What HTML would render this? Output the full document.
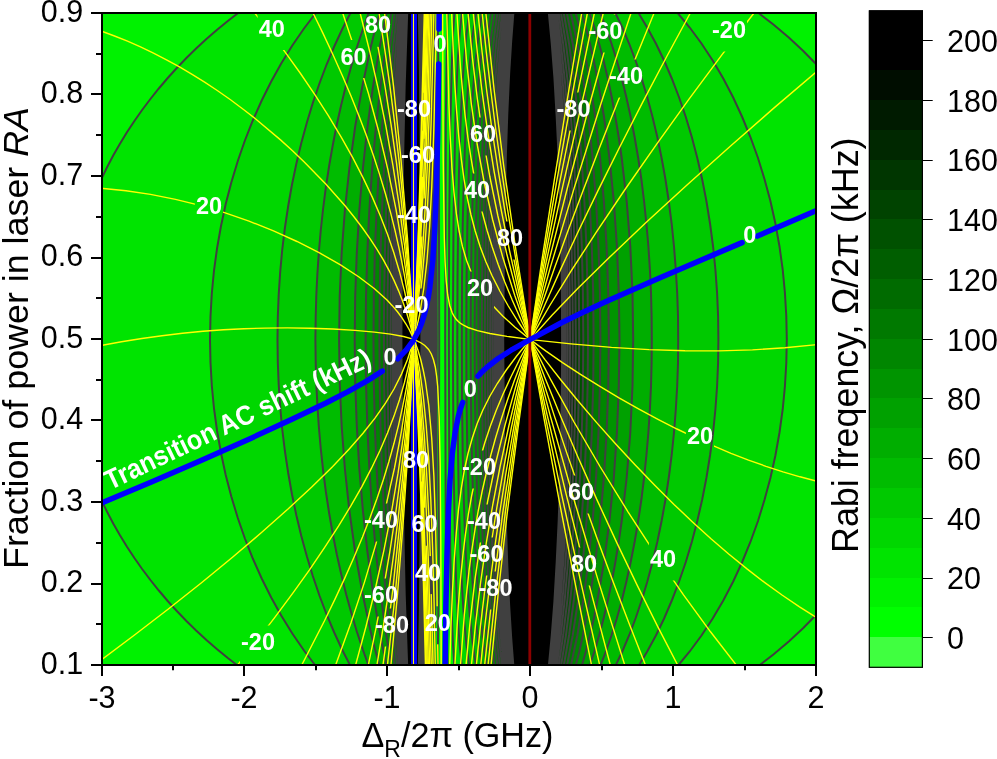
<!DOCTYPE html>
<html><head><meta charset="utf-8"><style>
html,body{margin:0;padding:0;background:#fff;width:997px;height:759px;overflow:hidden}
svg{display:block}
</style></head><body>
<svg width="997" height="759" viewBox="0 0 997 759">
<defs>
<clipPath id="pc"><rect x="101" y="12" width="716" height="654"/></clipPath>
<mask id="m120" maskUnits="userSpaceOnUse" x="0" y="0" width="997" height="759"><rect width="997" height="759" fill="#fff"/><g fill="#000"><rect x="396.0" y="92.2" width="36.0" height="38.0"/><rect x="555.5" y="92.0" width="36.0" height="38.0"/><rect x="477.5" y="571.0" width="36.0" height="38.0"/><rect x="374.0" y="608.0" width="36.0" height="38.0"/></g></mask><mask id="m140" maskUnits="userSpaceOnUse" x="0" y="0" width="997" height="759"><rect width="997" height="759" fill="#fff"/><g fill="#000"><rect x="400.0" y="138.3" width="36.0" height="38.0"/><rect x="587.4" y="14.0" width="36.0" height="38.0"/><rect x="468.5" y="537.0" width="36.0" height="38.0"/><rect x="363.0" y="578.0" width="36.0" height="38.0"/></g></mask><mask id="m160" maskUnits="userSpaceOnUse" x="0" y="0" width="997" height="759"><rect width="997" height="759" fill="#fff"/><g fill="#000"><rect x="396.0" y="198.0" width="36.0" height="38.0"/><rect x="608.0" y="59.0" width="36.0" height="38.0"/><rect x="363.0" y="503.0" width="36.0" height="38.0"/><rect x="466.0" y="504.0" width="36.0" height="38.0"/></g></mask><mask id="m180" maskUnits="userSpaceOnUse" x="0" y="0" width="997" height="759"><rect width="997" height="759" fill="#fff"/><g fill="#000"><rect x="393.5" y="288.0" width="36.0" height="38.0"/><rect x="711.0" y="13.0" width="36.0" height="38.0"/><rect x="461.0" y="450.0" width="36.0" height="38.0"/><rect x="240.0" y="625.0" width="36.0" height="38.0"/></g></mask><mask id="m220" maskUnits="userSpaceOnUse" x="0" y="0" width="997" height="759"><rect width="997" height="759" fill="#fff"/><g fill="#000"><rect x="194.9" y="188.5" width="28.1" height="38.0"/><rect x="465.9" y="271.0" width="28.1" height="38.0"/><rect x="423.7" y="605.8" width="28.1" height="38.0"/><rect x="685.9" y="419.0" width="28.1" height="38.0"/></g></mask><mask id="m240" maskUnits="userSpaceOnUse" x="0" y="0" width="997" height="759"><rect width="997" height="759" fill="#fff"/><g fill="#000"><rect x="257.6" y="11.5" width="28.1" height="38.0"/><rect x="462.9" y="173.0" width="28.1" height="38.0"/><rect x="413.9" y="555.6" width="28.1" height="38.0"/><rect x="648.9" y="542.0" width="28.1" height="38.0"/></g></mask><mask id="m260" maskUnits="userSpaceOnUse" x="0" y="0" width="997" height="759"><rect width="997" height="759" fill="#fff"/><g fill="#000"><rect x="339.5" y="39.5" width="28.1" height="38.0"/><rect x="468.9" y="117.0" width="28.1" height="38.0"/><rect x="410.5" y="507.2" width="28.1" height="38.0"/><rect x="566.9" y="475.0" width="28.1" height="38.0"/></g></mask><mask id="m280" maskUnits="userSpaceOnUse" x="0" y="0" width="997" height="759"><rect width="997" height="759" fill="#fff"/><g fill="#000"><rect x="363.9" y="8.3" width="28.1" height="38.0"/><rect x="495.9" y="221.0" width="28.1" height="38.0"/><rect x="401.9" y="443.0" width="28.1" height="38.0"/><rect x="569.9" y="547.0" width="28.1" height="38.0"/></g></mask><mask id="m200" maskUnits="userSpaceOnUse" x="0" y="0" width="997" height="759"><rect width="997" height="759" fill="#fff"/><g fill="#000"><rect x="432.5" y="27.0" width="15.1" height="38.0"/><rect x="742.3" y="218.0" width="15.1" height="38.0"/><rect x="382.5" y="340.0" width="15.1" height="38.0"/><rect x="462.7" y="372.0" width="15.1" height="38.0"/></g></mask>
</defs>
<g clip-path="url(#pc)">
<g transform="translate(0,0.5)">
<rect x="101" y="12" width="716" height="654" fill="rgb(0,255,0)"/>
<path fill="rgb(0,242,0)" d="M101 12L437.6 12 438.3 60 438.8 128.5 439.2 339 438.8 549.5 438.3 618 437.6 666 101 666 101 12ZM447.6 12L817 12 817 666 447.6 666 446.6 620 445.8 554 445.2 339 445.8 124 446.6 58 447.6 12Z"/>
<path fill="rgb(0,228,0)" d="M238.2 12.5L238.8 12 434.2 12 435.3 61.5 436.2 132 436.8 339 436.2 546 435.3 616.5 434.2 666 238.8 666 227.8 657.5 216.8 648.5 206.4 639.5 196.1 630 186.4 620.5 176.8 610.5 167.7 600.5 158.8 590 150.4 579.5 142.1 568.5 134.4 557.5 126.8 546 119.8 534.5 113.2 523 106.9 511 101 498.8 101 179.2 106.7 167.5 113 155.5 119.5 144 126.5 132.5 134 121 141.7 110 150 99 158.3 88.5 167.3 78 176.3 68 185.9 58 195.6 48.5 205.8 39 216.2 30 227.1 21 238.2 12.5ZM454.4 12L757.9 12 773.4 24 788.8 37 803.3 50.5 817 64.5 817 613.5 803.3 627.5 788.8 641 773.4 654 757.9 666 454.4 666 453.1 645.5 452 621 450.3 554.5 449.2 459.5 448.9 339 449.2 218.5 450.3 123.5 452 57 453.1 32.5 454.4 12Z"/>
<path fill="rgb(0,215,0)" d="M315.8 12.5L316.2 12 431.5 12 432.9 61.5 433.9 132 434.6 227.5 434.8 339 434.6 450.5 433.9 546 432.9 616.5 431.5 666 316.2 666 307.3 654.5 298.7 642.5 290.7 630.5 283 618 275.2 604.5 268.3 591.5 261.7 578 255.4 564 249.3 549.5 243.8 535 238.6 520 233.9 505 229.7 490 225.6 474 222.2 458.5 219.1 442.5 214.7 413.5 211.8 384.5 210.3 355.5 210.2 326 211.5 296.5 214.3 267.5 218.6 238.5 224.2 210 231.3 182 239.6 155 249.3 128.5 260.3 103 272.3 79 278.9 67 285.7 55.5 292.7 44.5 300.1 33.5 307.7 23 315.8 12.5ZM461.9 12L677.3 12 689.7 27 701.9 43.5 713.3 61 723.8 79 733.7 98 742.9 118 751.2 138.5 758.8 160 763.8 176 768.2 192 772.3 208.5 775.9 225.5 778.9 242.5 781.5 259.5 783.6 277 785.1 294 786.2 311.5 786.7 329 786.7 346.5 786.3 364 785.3 381.5 783.8 398.5 781.8 416 779.3 433 776.3 450 772.8 467 768.9 483.5 764.4 500 759.3 516.5 754 532 748.1 547.5 741.8 562.5 735.1 577 727.9 591.5 720.2 605.5 712.4 618.5 704.3 631 695.4 643.5 686.6 655 677.3 666 461.9 666 459.7 645 457.9 619.5 456.4 589.5 455.2 553 453.5 458.5 452.9 339 453.5 219.5 455.2 125 456.4 88.5 457.9 58.5 459.7 33 461.9 12Z"/>
<path fill="rgb(0,201,0)" d="M350.4 12.5L350.7 12 429.4 12 430.9 63.5 432.1 137.5 432.8 230 433 339 432.8 448 432.1 540.5 430.9 614.5 429.4 666 350.7 666 338.7 642 327.6 616.5 317.3 589 308.3 561 300.3 531.5 293.6 502 287.9 470.5 283.4 439 280.6 411 278.6 382 277.6 353.5 277.6 324.5 278.6 295.5 280.6 267 283.4 239 287.3 211 292.1 183.5 297.9 156.5 304.6 130 312.2 104.5 320.7 79.5 329.7 56.5 339.7 34 350.4 12.5ZM469.3 12L638.2 12 646.7 26 655.1 41.5 662.9 57.5 670.4 74.5 677.3 92 683.8 110.5 689.7 129.5 695.3 149.5 699.2 165.5 702.8 182 706.1 199 708.9 215.5 711.4 232.5 713.6 250.5 716.7 285.5 718.2 321 718.2 356.5 716.7 392 713.6 427.5 711.4 445.5 708.9 462.5 706.1 479 702.8 496 699.2 512.5 695.3 528.5 690.9 544.5 686.2 560 681.3 575 675.8 590 670.2 604 664.3 617.5 658.2 630.5 651.7 643 645.2 654.5 638.2 666 469.3 666 466.4 644 464 618 462 587 460.4 550.5 459 507 458.1 456.5 457.5 400 457.3 339 457.5 278 458.1 221.5 459 171 460.4 127.5 462 91 464 60 466.4 34 469.3 12Z"/>
<path fill="rgb(0,188,0)" d="M368.9 12L427.7 12 429.3 65.5 430.6 140.5 431.3 232.5 431.5 339 431.3 445.5 430.6 537.5 429.3 612.5 427.7 666 368.9 666 360.2 641.5 351.8 614.5 344.3 586.5 337.9 559 332.2 530.5 327.3 500.5 323.1 470 319.9 439 317.7 411 316.3 382.5 315.5 354 315.5 325.5 316.2 297 317.6 268.5 319.8 240.5 322.6 212.5 326.2 185 330.3 158.5 335.2 132 340.7 106.5 346.9 81.5 353.8 57 361.2 33.5 368.9 12ZM476.1 12L615.1 12 621.6 25.5 627.8 40 633.9 55.5 639.6 72 644.8 88.5 649.8 106 654.4 124 658.7 143 664.9 175.5 670 209.5 673.9 244.5 676.5 280 678 316 678.1 352 677.1 388 674.7 424 671.2 459 666.4 493.5 660.3 527 653.3 558.5 645.3 588 636.2 616 631.2 629.5 626.2 642 620.7 654.5 615.1 666 476.1 666 472.7 643 469.8 615.5 467.4 583.5 465.4 546.5 463.9 502.5 462.7 453 462 397.5 461.8 339 462 280.5 462.7 225 463.9 175.5 465.4 131.5 467.4 94.5 469.8 62.5 472.7 35 476.1 12Z"/>
<path fill="rgb(0,174,0)" d="M379.7 12L426.4 12 428.1 69.5 429.2 140 429.9 230.5 430.2 339 429.9 447.5 429.2 538 428.1 608.5 426.4 666 379.7 666 372.8 640 366.8 614 361.3 587 356.3 559 351.9 529.5 348.2 501 345.2 471.5 342.7 441.5 340.9 413 339.8 385 339.2 357 339.1 328.5 339.6 300 340.6 272 342.2 244 344.3 216.5 346.9 189 350.1 161.5 353.7 135.5 357.9 110 362.7 84 367.8 59.5 373.7 34.5 379.7 12ZM481.9 12L600 12 605.1 25 610.1 39 614.8 53.5 619.3 69 623.7 85.5 627.7 102.5 634.8 137.5 640.2 170.5 644.6 205 647.9 239.5 650.2 275.5 651.5 312 651.8 348.5 651 385 649.2 421 646.3 456.5 642.3 491.5 637.5 524.5 631.8 556.5 624.9 587.5 617.3 616 609.1 642 600 666 481.9 666 478.3 642 475.1 613.5 472.5 580.5 470.3 543 468.6 499.5 467.3 450 466.5 396 466.3 339 466.5 282 467.3 228 468.6 178.5 470.3 135 472.5 97.5 475.1 64.5 478.3 36 481.9 12Z"/>
<path fill="rgb(0,161,0)" d="M386.4 12.5L386.6 12 425.2 12 426.9 67 428.1 143.5 428.8 234.5 429.1 339 428.8 443.5 428.1 534.5 426.9 611 425.2 666 386.6 666 381.6 642 376.8 615.5 372.6 589.5 368.7 561.5 365.3 533 362.3 504.5 359.8 475 357.9 446 356.4 417.5 355.4 389.5 354.9 361 354.7 333 355 304.5 355.8 276.5 357 248.5 358.6 220 360.7 192 363.1 165 366.1 137.5 369.3 112 373.2 85 377.2 60 381.7 35.5 386.4 12.5ZM486.9 12L589.4 12 597.8 38.5 605.4 67.5 612.3 99.5 618.2 133.5 622.9 166.5 626.7 201 629.7 236.5 631.7 272 632.9 308.5 633.2 345.5 632.6 382 631.1 418.5 628.7 454.5 625.4 490 621.3 523.5 616.3 556 610.7 586.5 604.2 615.5 597.2 641.5 589.4 666 486.9 666 485.4 657 481.8 630.5 478.8 600.5 476.3 566 474.2 527.5 472.6 483 471.4 433.5 470.8 380.5 470.6 326 471 272.5 471.9 221.5 473.2 175 475.1 133 477.3 96.5 480.1 64 483.2 36 486.9 12Z"/>
<path fill="rgb(0,148,0)" d="M391.3 12L424.3 12 425.9 67.5 427.1 145 427.8 235.5 428.1 339 427.8 442.5 427.1 533 425.9 610.5 424.3 666 391.3 666 387.3 642 383.7 617.5 380.3 591 377.2 564 372.1 509 370.1 481 368.4 451 366.3 394 365.6 336.5 366.4 279.5 368.6 222.5 372.3 167 377.3 113 380.3 87 383.7 60.5 387.3 36 391.3 12ZM490.9 12.5L491 12 581.6 12 588.7 38 595.2 66.5 600.8 96.5 605.9 129.5 610.1 163 613.4 196.5 616.1 232.5 618 269 619.1 305.5 619.5 342.5 619 379.5 617.7 416 615.7 452 612.9 487.5 609.3 521.5 605.1 554 600.2 585 594.6 614 588.3 641.5 581.6 666 491 666 488.4 648.5 485.1 621.5 482.2 589.5 479.8 553.5 477.9 514 476.3 469 475.3 421 474.7 370 474.7 317.5 475.1 266.5 476.1 218 477.4 174.5 479.3 133.5 481.6 97 484.2 65.5 487.3 37.5 490.9 12.5Z"/>
<path fill="rgb(0,134,0)" d="M394.7 12L423.5 12 425.1 72 426.2 144 426.9 233.5 427.2 339 426.9 444.5 426.2 534 425.1 606 423.5 666 394.7 666 388.7 619.5 383.3 566.5 379.2 513.5 376.1 458 374.2 400.5 373.5 342.5 374.1 284 375.8 227 378.8 170 383.1 113 388.3 61.5 394.7 12ZM494.4 12.5L494.5 12 575.5 12 581.7 37.5 587.2 65 592.3 95.5 596.7 127.5 600.3 160 603.4 195 605.8 230.5 607.5 267.5 608.5 304.5 608.8 341.5 608.4 379 607.4 415.5 605.6 451 603.1 486.5 600.1 520.5 596.2 554 591.8 585.5 586.8 615 581.3 642 575.5 666 494.5 666 491.2 642.5 488.1 614 485.4 581 483.1 545.5 481.3 505 479.9 460.5 478.9 413 478.4 363 478.4 312.5 478.9 264 479.9 217 481.3 173 483.1 133 485.3 98 487.9 66 490.9 38 494.4 12.5Z"/>
<path fill="rgb(0,121,0)" d="M397.2 12L422.8 12 424.3 68 425.4 141 426.1 235.5 426.4 339 426.1 442.5 425.4 537 424.3 610 422.8 666 397.2 666 392.2 620.5 387.8 569 384.3 516.5 381.8 463.5 380.1 406 379.4 346.5 379.8 288 381.2 229.5 383.7 172 387.3 115.5 391.8 62 397.2 12ZM497.5 12L570.7 12 576.1 37 580.9 63.5 585.3 93 589.3 125 592.7 158 595.4 192 597.6 228.5 599.2 265 600.1 302 600.4 339.5 600.1 376.5 599.2 413.5 597.6 450 595.4 486.5 592.7 520 589.3 553.5 585.3 585.5 580.8 615 575.8 642.5 570.7 666 497.5 666 493.6 636.5 490.7 607 488.2 574 486.1 537.5 484.3 496 483.1 452.5 482.2 405.5 481.8 356.5 481.9 307.5 482.4 261 483.3 215.5 484.7 173 486.4 134 488.6 97.5 491.2 65.5 494.2 36.5 497.5 12Z"/>
<path fill="rgb(0,107,0)" d="M399.2 12L422.2 12 423.7 71.5 424.8 145 425.4 234 425.7 339 425.4 444 424.8 533 423.7 606.5 422.2 666 399.2 666 394.8 620 391.3 572.5 388.3 521 386.2 470.5 384.6 412 383.9 352 384.2 292.5 385.4 233.5 387.6 172 390.7 115.5 394.7 60 399.2 12ZM499.9 12.5L500 12 566.8 12 571.6 36.5 575.9 62.5 579.8 91.5 583.3 122.5 586.4 155 588.9 189.5 590.9 224.5 592.4 262 593.3 299 593.6 336.5 593.4 374.5 592.6 411.5 591.2 448 589.2 484 586.7 518.5 583.7 552 580.2 583.5 576.2 613.5 571.7 641 566.8 666 500 666 495.8 631 493.1 601.5 490.7 567.5 488.8 530.5 487.2 490 485.9 445.5 485.2 400.5 484.8 352.5 484.9 304.5 485.4 259.5 486.4 215 487.7 173 489.4 134.5 491.4 100 493.9 67.5 496.7 38 499.9 12.5Z"/>
<path fill="rgb(0,94,0)" d="M400.7 12L421.7 12 421.7 14.5 423.2 75.5 424.2 150.5 424.8 240.5 425.1 342 424.8 442.5 424.2 531.5 423.2 604.5 421.7 666 400.7 666 397.2 624 394.2 578 391.7 529.5 389.6 477 388.1 417.5 387.5 356 387.7 295 388.7 235 390.6 173.5 393.2 117 396.7 61 400.7 12ZM502.2 12L563.6 12 567.8 35.5 571.8 62.5 575.4 91 578.6 122.5 581.4 155 583.7 190 585.6 226.5 586.9 262.5 587.7 300 588 337.5 587.8 375.5 587 413 585.7 449.5 583.9 486 581.6 520 578.8 553.5 575.7 584.5 571.9 615 567.8 642.5 563.6 666 502.2 666 499.8 646.5 497.8 626.5 495.3 596.5 493.1 563 491.2 525.5 489.7 484 488.6 441 487.9 394.5 487.6 348 487.7 301 488.3 255.5 489.2 211.5 490.6 169 492.2 132 494.2 96.5 496.6 64.5 499.3 36.5 502.2 12Z"/>
<path fill="rgb(0,81,0)" d="M402 12.5L402 12 421.2 12 421.3 16.5 422.7 78 423.7 154 424.3 244.5 424.5 344 424.3 441.5 423.6 530.5 422.7 603.5 421.2 666 402 666 398.8 622.5 396.3 579 394.1 533 392.3 481.5 390.9 420 390.3 360 390.4 299.5 391.3 238 392.9 179 395.3 119 398.3 64 402 12.5ZM504.1 12L560.9 12 564.8 35.5 568.3 61.5 571.7 91 574.6 121.5 577.2 155 579.3 189 581.1 226 582.3 262 583 299.5 583.3 337 583.1 374.5 582.4 412 581.2 448 579.6 484 577.4 520.5 574.9 553.5 571.9 585.5 568.7 613.5 564.8 642 560.9 666 504.1 666 501.8 646 499.7 624 497.3 593 495.2 559.5 493.4 521 492.1 482 491 439.5 490.3 393 490.1 346.5 490.2 300 490.7 255 491.6 212 492.8 172 494.4 134 496.3 99 498.7 66 501.3 37 504.1 12Z"/>
<path fill="rgb(0,67,0)" d="M403.1 12L420.8 12 421.1 25 422.3 83.5 423.3 163 423.8 254 424 353.5 423.7 447 423.1 533 422.2 605 420.8 666 403.1 666 400.3 625 398.2 584.5 396.2 538 394.6 489 393.3 427.5 392.7 366 392.7 303.5 393.4 242 394.9 180.5 397.1 117 399.8 62.5 403.1 12ZM505.8 12L558.6 12 562.2 35.5 565.3 60.5 568.3 88.5 571.1 120 573.6 154.5 575.6 189 577.2 225 578.3 261 579 298 579.2 336 579.1 373.5 578.4 411.5 577.3 448.5 575.8 484 573.9 519.5 571.6 551.5 568.9 584 565.8 613.5 562.3 641.5 558.6 666 505.8 666 503.3 643.5 501.2 620 499.1 590.5 497.1 555.5 495.4 516.5 494.1 477 492.6 390 492.5 298 493.8 211.5 495.1 169.5 496.6 132 498.4 98.5 500.7 65 503.2 36 505.8 12Z"/>
<path fill="rgb(0,54,0)" d="M403.9 12L420.4 12 420.8 25 421.9 82 422.8 162.5 423.4 253 423.5 353.5 423.3 447.5 422.7 533.5 421.7 606.5 420.4 666 403.9 666 401.7 629.5 399.7 587 397.8 539 396.4 490.5 395.2 430 394.6 367 394.6 303.5 395.3 241 396.7 176 398.6 116 401.2 59 403.9 12ZM507.2 12L556.6 12 559.8 34.5 562.8 60 565.7 89 568.1 118.5 570.3 151 572.2 186 573.7 222 574.8 258.5 575.5 296.5 575.8 334 575.6 371.5 575 409.5 574.1 445.5 572.7 482.5 570.9 518.5 568.7 551.5 566.2 583.5 563.3 614 560.2 640.5 556.6 666 507.2 666 504.8 642.5 502.7 617.5 500.6 586.5 498.7 550.5 497.2 513 496 472 494.5 386 494.5 296 495.8 211.5 498.4 134 500.2 98.5 502.3 66.5 504.7 37 507.2 12Z"/>
<path fill="rgb(0,40,0)" d="M404.7 12L420.1 12 420.4 24 421.6 89 422.4 158.5 422.9 248 423.1 351 422.8 448.5 422.2 534.5 421.3 609.5 420.1 666 404.7 666 402.7 630 400.7 586 397.9 494 396.8 432 396.2 369.5 396.2 306 396.8 243 397.9 183 399.7 119.5 402.1 59.5 404.7 12ZM508.5 12.5L508.6 12 554.9 12 557.8 34 560.7 60 563.2 87 565.4 115 567.6 149 569.3 182.5 570.7 218.5 571.8 255.5 572.8 331.5 572.1 407.5 571.2 445 569.9 482.5 568.2 517.5 566.2 551 563.8 583.5 561.2 613 558.2 640.5 554.9 666 508.6 666 506.2 642.5 504.1 616 502.1 585 500.3 549 497.7 472 496.4 385.5 496.3 296.5 497.7 210 500.2 132.5 501.8 99 503.8 67 506.1 37 508.5 12.5Z"/>
<path fill="rgb(0,27,0)" d="M405.3 12L419.8 12 420.3 31.5 421.3 93.5 422.1 175.5 422.7 358 421.8 540 420.9 614.5 419.8 666 405.3 666 401.8 588 399.3 501 398.2 439 397.6 374 397.6 308.5 398.1 244 399.2 180.5 400.8 120.5 402.8 64.5 405.3 12ZM509.7 12L553.4 12 556.2 35 558.8 59.5 563.2 115.5 565.2 148.5 566.9 182.5 568.2 219 569.3 257 570.1 333 569.5 409 567.4 484 565.8 519.5 563.9 553 561.7 584 559.2 613.5 556.3 642 553.4 666 509.7 666 507.3 640 505.3 612.5 503.3 580 501.7 545.5 499.3 467.5 498 382.5 498 293.5 499.3 209.5 501.7 132 503.3 98.5 505.2 66 507.3 38 509.7 12Z"/>
<path fill="rgb(0,13,0)" d="M405.9 12L419.5 12 420.1 39 421.1 106 421.8 179 422.3 365.5 421.4 546.5 420.6 609 419.5 666 405.9 666 402.7 591 400.3 502.5 399.3 438.5 398.8 374.5 398.8 310 399.2 245.5 400.2 181 401.7 119.5 403.7 60.5 405.9 12ZM510.8 12L552.1 12 554.7 35 557.2 60.5 561.3 115 564.7 182.5 566.9 255.5 567.8 331.5 567.2 408 565.2 483 561.9 553 559.8 585.5 557.4 615.5 554.8 642.5 552.1 666 510.8 666 508.4 638.5 506.3 609.5 504.4 575 502.9 541 500.7 465 499.5 380 499.6 291.5 500.8 208 503.2 131 504.8 96 506.6 64 508.7 35.5 510.8 12Z"/>
<path fill="rgb(0,0,0)" d="M406.4 12L419.3 12 419.8 35.5 420.7 97.5 421.4 171.5 422 363 421.2 536.5 420.3 611.5 419.3 666 406.4 666 403.6 596.5 401.3 507 400.3 442 399.8 377.5 399.8 312 400.2 247 401.1 182 402.4 124.5 404.2 64 406.4 12ZM511.7 12L550.9 12 553.3 34.5 555.7 60.5 559.6 115.5 562.8 182.5 564.9 256 565.7 332 565.1 408 563.3 482 560.3 551 556.2 612 553.7 639.5 550.9 666 511.7 666 509.3 637.5 507.4 608 504.2 541.5 502 465 500.9 379.5 501 292 502.1 208 504.3 133 507.6 65.5 509.7 36 511.7 12Z"/>
<path fill="none" stroke="#404040" stroke-width="2" d="M437.6 12L438.3 60 438.8 128.5 439.2 339 438.8 549.5 438.3 618 437.6 666M447.6 666L446.6 620 445.8 554 445.2 339 445.8 124 446.6 58 447.6 12M434.2 12L435.3 61.5 436.2 132 436.8 339 436.2 546 435.3 616.5 434.2 666M757.9 12L773.4 24 788.8 37 803.3 50.5 817 64.5M101 179.2L106.9 167 113.2 155 119.8 143.5 126.8 132 134.4 120.5 142.1 109.5 150.4 98.5 158.8 88 167.7 77.5 176.8 67.5 186.4 57.5 196.1 48 206.4 38.5 216.8 29.5 227.8 20.5 238.8 12M817 613.5L803.3 627.5 788.8 641 773.4 654 757.9 666M238.8 666L227.8 657.5 216.8 648.5 206.4 639.5 196.1 630 186.4 620.5 176.8 610.5 167.7 600.5 158.8 590 150.4 579.5 142.1 568.5 134.4 557.5 126.8 546 119.8 534.5 113.2 523 106.9 511 101 498.8M454.4 666L453.1 645.5 452 621 450.3 554.5 449.2 459.5 448.9 339 449.2 218.5 450.3 123.5 452 57 453.1 32.5 454.4 12M431.5 12L432.9 61.5 433.9 132 434.6 227.5 434.8 339 434.6 450.5 433.9 546 432.9 616.5 431.5 666M677.3 12L689.7 27 701.5 43 712.7 60 723.3 78 733.2 97 742.2 116.5 750.4 136.5 758 157.5 764.6 179 770.4 200.5 775.4 223 779.5 246 782.7 269 784.9 292 786.3 315.5 786.8 339 786.3 362.5 784.9 386 782.7 409 779.5 432 775.4 455 770.4 477.5 764.6 499 758 520.5 750.4 541.5 742.2 561.5 733.2 581 723.3 600 712.7 618 701.5 635 689.7 651 677.3 666M316.2 666L304 650 292.3 633 281.2 615 271.2 597 261.7 578 252.8 558 244.9 538 237.8 517.5 231.3 496 225.7 474.5 221 452.5 217.1 430.5 214 408 211.8 385 210.5 362 210 339 210.5 316 211.8 293 214 270 217.1 247.5 221 225.5 225.7 203.5 231.3 182 237.8 160.5 244.9 140 252.8 120 261.7 100 271.2 81 281.2 63 292.3 45 304 28 316.2 12M461.9 666L459.7 645 457.9 619.5 456.4 589.5 455.2 553 453.5 458.5 452.9 339 453.5 219.5 455.2 125 456.4 88.5 457.9 58.5 459.7 33 461.9 12M429.4 12L430.9 63.5 432.1 137.5 432.8 230 433 339 432.8 448 432.1 540.5 430.9 614.5 429.4 666M638.2 12L647.2 27 655.9 43 664.1 60 671.8 78 679.1 97 685.8 116.5 691.8 136.5 697.3 157.5 702.2 179 706.4 200.5 710.1 223.5 713.1 246 715.4 269 717.1 292.5 718.1 316 718.4 339 718.1 362 717.1 385.5 715.4 409 713.1 432 710.1 454.5 706.4 477.5 702.2 499 697.3 520.5 691.8 541.5 685.8 561.5 679.1 581 671.8 600 664.1 618 655.9 635 647.2 651 638.2 666M350.7 666L342.3 649.5 334.2 632 326.6 614 319.6 595.5 312.8 575.5 306.9 556 301.3 535.5 296.4 515 292 494 288.2 472.5 284.9 450.5 282.2 428.5 280.2 406.5 278.7 384 277.8 361.5 277.5 339 277.8 316.5 278.7 294 280.2 271.5 282.2 249.5 284.9 227.5 288.2 205.5 292 184 296.4 163 301.3 142.5 306.9 122 312.8 102.5 319.6 82.5 326.6 64 334.2 46 342.3 28.5 350.7 12M469.3 666L466.4 644 464 618 462 587 460.4 550.5 459 507 458.1 456.5 457.5 400 457.3 339 457.5 278 458.1 221.5 459 171 460.4 127.5 462 91 464 60 466.4 34 469.3 12M427.7 12L429.3 65.5 430.6 140.5 431.3 232.5 431.5 339 431.3 445.5 430.6 537.5 429.3 612.5 427.7 666M615.1 12L622.3 27 629.3 43.5 635.7 60.5 641.6 78 647.2 96.5 652.4 116 657.3 136.5 661.6 157.5 665.4 178.5 668.8 201 671.7 223.5 674 246 675.8 269 677.2 292.5 678 315.5 678.2 339 678 362.5 677.2 385.5 675.8 409 674 432 671.7 454.5 668.8 477 665.4 499.5 661.6 520.5 657.3 541.5 652.4 562 647.2 581.5 641.6 600 635.7 617.5 629.3 634.5 622.3 651 615.1 666M368.9 666L362.8 649 356.8 631 351.3 612.5 346.2 594 341.3 574 336.8 554 332.8 533.5 329.2 513 325.9 491.5 323.2 470.5 320.8 448.5 318.9 427 317.4 405 316.3 383 315.7 361 315.4 339 315.7 317 316.3 295 317.4 273 318.9 251 320.8 229.5 323.2 207.5 325.9 186.5 329.2 165 332.8 144.5 336.8 124 341.3 104 346.2 84 351.3 65.5 356.8 47 362.8 29 368.9 12M476.1 666L472.7 643 469.8 615.5 467.4 583.5 465.4 546.5 463.9 502.5 462.7 453 462 397.5 461.8 339 462 280.5 462.7 225 463.9 175.5 465.4 131.5 467.4 94.5 469.8 62.5 472.7 35 476.1 12M426.4 12L428.1 69.5 429.2 140 429.9 230.5 430.2 339 429.9 447.5 429.2 538 428.1 608.5 426.4 666M600 12L605.7 26.5 611.3 42.5 616.8 60 621.8 78 626.3 96.5 630.7 116.5 634.7 137 638.2 157.5 641.4 179 644.1 201 646.4 223 648.4 246 649.9 269 651 292 651.6 315.5 651.8 339 651.6 362.5 651 386 649.9 409 648.4 432 646.4 455 644.1 477 641.4 499 638.2 520.5 634.7 541 630.7 561.5 626.3 581.5 621.8 600 616.8 618 611.3 635.5 605.7 651.5 600 666M379.7 666L374.8 648 370.3 629.5 362.3 592 355.2 552 349.4 510.5 344.9 468.5 341.7 426 339.7 382.5 339.1 339 339.7 295.5 341.7 252 344.9 209.5 349.4 167.5 355.2 126 362.3 86 370.3 48.5 374.8 30 379.7 12M481.9 666L478.3 642 475.1 613.5 472.5 580.5 470.3 543 468.6 499.5 467.3 450 466.5 396 466.3 339 466.5 282 467.3 228 468.6 178.5 470.3 135 472.5 97.5 475.1 64.5 478.3 36 481.9 12M425.2 12L426.9 67 428.1 143.5 428.8 234.5 429.1 339 428.8 443.5 428.1 534.5 426.9 611 425.2 666M589.4 12L594.4 27 599.2 43.5 603.7 60.5 607.8 78 611.8 97 615.3 116 618.7 136.5 621.7 157.5 626.7 201 630.3 246 632.5 292.5 633.2 339 632.5 385.5 630.3 432 626.7 477 621.7 520.5 618.7 541.5 615.3 562 611.8 581 607.8 600 603.7 617.5 599.2 634.5 594.4 651 589.4 666M386.6 666L379.3 629.5 372.8 590.5 367.3 550.5 362.9 510 359.3 468 356.8 425.5 355.2 382.5 354.7 339 355.2 295.5 356.8 252.5 359.3 210 362.9 168 367.3 127.5 372.8 87.5 379.3 48.5 386.6 12M486.9 666L483.1 641 479.8 611.5 477.1 578.5 474.8 539.5 473 496.5 471.7 447.5 470.9 394.5 470.6 339 470.9 283.5 471.7 230.5 473 181.5 474.8 138.5 477.1 99.5 479.8 66.5 483.1 37 486.9 12M424.3 12L425.9 67.5 427.1 145 427.8 235.5 428.1 339 427.8 442.5 427.1 533 425.9 610.5 424.3 666M581.6 12L585.7 26.5 589.8 42.5 593.7 59.5 597.3 77.5 603.9 115.5 609.4 157 613.8 200.5 616.9 245.5 618.8 292 619.5 339 618.8 386 616.9 432.5 613.8 477.5 609.4 521 603.9 562.5 597.3 600.5 593.7 618.5 589.8 635.5 585.7 651.5 581.6 666M391.3 666L385.4 629 380.3 591 375.8 550.5 372.2 510 369.3 467.5 367.3 425 366 382.5 365.6 339 366 295.5 367.3 253 369.3 210.5 372.2 168 375.8 127.5 380.3 87 385.4 49 391.3 12M491 666L487.2 639.5 483.9 609 481.1 575 478.9 536.5 477.1 493.5 475.7 445 474.9 393 474.6 339 474.9 285 475.7 233 477.1 184.5 478.9 141.5 481.1 103 483.9 69 487.2 38.5 491 12M423.5 12L425.1 72 426.2 144 426.9 233.5 427.2 339 426.9 444.5 426.2 534 425.1 606 423.5 666M575.5 12L579.3 27 582.9 43 589.6 79 595.3 117 600.1 158 603.9 201 606.6 246.5 608.3 292.5 608.9 339 608.3 385.5 606.6 431.5 603.9 477 600.1 520 595.3 561 589.6 599 582.9 635 579.3 651 575.5 666M394.7 666L389.8 629.5 385.7 592 381.9 550 378.9 509 376.6 468 374.8 424.5 373.8 381.5 373.5 339 373.8 296.5 374.8 253.5 376.6 210 378.9 169 381.9 128 385.7 86 389.8 48.5 394.7 12M494.5 666L490.8 639.5 487.7 609.5 484.9 574 482.6 535.5 480.8 491 479.4 443 478.6 392 478.4 339 478.6 286 479.4 235 480.8 187 482.6 142.5 484.9 104 487.7 68.5 490.8 38.5 494.5 12M422.8 12L424.3 68 425.4 141 426.1 235.5 426.4 339 426.1 442.5 425.4 537 424.3 610 422.8 666M570.7 12L577.3 43 583.3 78.5 588.3 116.5 592.7 158 596.1 202 598.5 246 599.9 292 600.4 339 599.9 386 598.5 432 596.1 476 592.7 520 588.3 561.5 583.3 599.5 577.3 635 570.7 666M397.2 666L393.2 630.5 389.7 592.5 386.6 553 383.9 509 381.9 466.5 380.5 425.5 379.7 382.5 379.4 339 379.7 295.5 380.5 252.5 381.9 211.5 383.9 169 386.6 125 389.7 85.5 393.2 47.5 397.2 12M497.5 666L493.9 638.5 490.8 607.5 488.1 572.5 485.9 532.5 484.1 489 482.8 441 482 391 481.8 339 482 287 482.8 237 484.1 189 485.9 145.5 488.1 105.5 490.8 70.5 493.9 39.5 497.5 12M422.2 12L423.7 71.5 424.8 145 425.4 234 425.7 339 425.4 444 424.8 533 423.7 606.5 422.2 666M566.8 12L572.7 43 578.2 79 582.8 117 586.6 158.5 589.7 201.5 591.8 246 593.2 292.5 593.6 339 593.2 385.5 591.8 432 589.7 476.5 586.6 519.5 582.8 561 578.2 599 572.7 635 566.8 666M399.2 666L395.7 630.5 392.7 592.5 390.1 553.5 387.8 510 386.1 468.5 384.9 424.5 384.1 382 383.9 339 384.1 296 384.9 253.5 386.1 209.5 387.8 168 390.1 124.5 392.7 85.5 395.7 47.5 399.2 12M500 666L496.7 639.5 493.6 607.5 490.9 570.5 488.8 531.5 487.1 488 485.8 440 485.1 390.5 484.8 339 485.1 287.5 485.8 238 487.1 190 488.8 146.5 490.9 107.5 493.6 70.5 496.7 38.5 500 12M421.7 12L423.2 73.5 424.2 147.5 424.8 237.5 425.1 339 424.8 440.5 424.2 530.5 423.2 604.5 421.7 666M563.6 12L569.2 44 573.8 78 578.2 117.5 581.6 158.5 584.4 201 586.4 246 587.6 292.5 588 339 587.6 385.5 586.4 432 584.4 477 581.6 519.5 578.2 560.5 573.8 600 569.2 634 563.6 666M400.7 666L397.8 631 395.2 594 392.8 552.5 390.8 510 389.3 467 388.3 425 387.6 382.5 387.4 339 387.6 295.5 388.3 253 389.3 211 390.8 168 392.8 125.5 395.2 84 397.8 47 400.7 12M502.2 666L498.8 637 495.9 605 493.4 568 491.4 529.5 489.8 486 488.6 439.5 487.8 390 487.6 339 487.8 288 488.6 238.5 489.8 192 491.4 148.5 493.4 110 495.9 73 498.8 41 502.2 12M421.2 12L422.7 75 423.6 149.5 424.3 239.5 424.5 339 424.3 438.5 423.6 528.5 422.7 603 421.2 666M560.9 12L565.8 42.5 570.2 77.5 574.2 116.5 577.3 157 579.9 200 581.8 245.5 582.9 291.5 583.3 339 582.9 386.5 581.8 432.5 579.9 478 577.3 521 574.2 561.5 570.2 600.5 565.8 635.5 560.9 666M402 666L399.4 630.5 397.2 595.5 395.1 556 393.3 511 391.1 427 390.3 339 391.1 251 393.3 167 395.1 122 397.2 82.5 399.4 47.5 402 12M504.1 666L500.9 637 498.2 606 495.8 569.5 493.8 529.5 492.2 486.5 491 439.5 490.3 390 490.1 339 490.3 288 491 238.5 492.2 191.5 493.8 148.5 495.8 108.5 498.2 72 500.9 41 504.1 12M420.8 12L422.2 74.5 423.2 150 423.8 240 424 339 423.8 438 423.2 528 422.2 603.5 420.8 666M558.6 12L563.2 43.5 567.3 78 570.8 116 573.8 157.5 576.2 201 577.9 245.5 578.9 291.5 579.2 339 578.9 386.5 577.9 432.5 576.2 477 573.8 520.5 570.8 562 567.3 600 563.2 634.5 558.6 666M403.1 666L400.8 632 398.7 595 395.3 511.5 393.3 426 392.6 339 393.3 252 395.3 166.5 398.7 83 400.8 46 403.1 12M505.8 666L502.8 638 500.1 606 497.8 568.5 495.8 528 494.3 484 493.2 438 492.6 389.5 492.3 339 492.6 288.5 493.2 240 494.3 194 495.8 150 497.8 109.5 500.1 72 502.8 40 505.8 12M420.4 12L421.7 72.5 422.7 149 423.3 239.5 423.5 339 423.3 438.5 422.7 529 421.7 605.5 420.4 666M556.6 12L560.8 42.5 564.7 78.5 567.9 115.5 570.7 157.5 572.9 200 574.5 245 575.4 291.5 575.8 339 575.4 386.5 574.5 433 572.9 478 570.7 520.5 567.9 562.5 564.7 599.5 560.8 635.5 556.6 666M403.9 666L401.8 630 399.8 591 396.9 510 395.1 426.5 394.5 339 395.1 251.5 396.9 168 399.8 87 401.8 48 403.9 12M507.2 666L504.3 637 501.8 604.5 499.6 569 497.8 528 496.3 484 495.2 437.5 494.6 389 494.4 339 494.6 289 495.2 240.5 496.3 194 497.8 150 499.6 109 501.8 73.5 504.3 41 507.2 12M420.1 12L421.3 69.5 422.3 147 422.9 236.5 423.1 339 422.9 441.5 422.3 531 421.3 608.5 420.1 666M554.9 12L558.8 42.5 562.4 77.5 565.4 115 568.1 158.5 570.2 202.5 571.6 247 572.5 292.5 572.8 339 572.5 385.5 571.6 431 570.2 475.5 568.1 519.5 565.4 563 562.4 600.5 558.8 635.5 554.9 666M404.7 666L401.2 596.5 398.3 511.5 396.7 426.5 396.1 339 396.7 251.5 398.3 166.5 401.2 81.5 404.7 12M508.6 666L505.8 637 503.3 603.5 501.2 567 499.4 526 498.1 484.5 497 437.5 496.4 388.5 496.2 339 496.4 289.5 497 240.5 498.1 193.5 499.4 152 501.2 111 503.3 74.5 505.8 41 508.6 12M419.8 12L420.9 65.5 421.9 144 422.5 232 422.7 339 422.5 446 421.9 534 420.9 612.5 419.8 666M553.4 12L557.2 43.5 560.3 77 563.2 115.5 565.7 157.5 567.6 201 569 245 569.8 291.5 570.1 339 569.8 386.5 569 433 567.6 477 565.7 520.5 563.2 562.5 560.3 601 557.2 634.5 553.4 666M405.3 666L402.2 598.5 399.6 516 398.1 430.5 397.5 339 398.1 247.5 399.6 162 402.2 79.5 405.3 12M509.7 666L507.1 638 504.7 604 502.7 567 500.9 525.5 499.6 483 498.7 436.5 498.1 389 497.9 339 498.1 289 498.7 241.5 499.6 195 500.9 152.5 502.7 111 504.7 74 507.1 40 509.7 12M419.5 12L420.7 74.5 421.6 153 422.3 339 421.6 525 420.7 603.5 419.5 666M552.1 12L555.6 44 558.7 78.5 561.3 116 563.7 158 565.4 200.5 566.7 246.5 567.5 293 567.8 339 567.5 385 566.7 431.5 565.4 477.5 563.7 520 561.3 562 558.7 599.5 555.6 634 552.1 666M405.9 666L402.8 594 400.6 516.5 399.2 429.5 398.7 339 399.2 248.5 400.6 161.5 402.8 84 405.9 12M510.8 666L508.2 636.5 505.9 602 503.9 564 502.4 525.5 501.1 483.5 500.2 436.5 499.4 339 500.2 241.5 501.1 194.5 502.4 152.5 503.9 114 505.9 76 508.2 41.5 510.8 12M419.3 12L420.4 68.5 421.3 149 422 339 421.3 529 420.4 609.5 419.3 666M550.9 12L554.2 44 557.2 79 559.7 117 561.8 157 563.4 199.5 564.7 246 565.4 291.5 565.7 339 565.4 386.5 564.7 432 563.4 478.5 561.8 521 559.7 561 557.2 599 554.2 634 550.9 666M406.4 666L403.6 597 401.4 510.5 400.2 427 399.7 339 400.2 251 401.4 167.5 403.6 81 406.4 12M511.7 666L509.3 637 507.2 605 505.3 567.5 503.7 527 501.5 438 500.8 339 501.5 240 503.7 151 505.3 110.5 507.2 73 509.3 41 511.7 12M419 12L420.2 73.5 420.9 142.5 421.7 339 420.9 535.5 420.2 604.5 419 666M549.8 12L552.8 42 555.7 78.5 558.2 117.5 560.2 158 561.7 201 562.9 245.5 563.6 292.5 563.8 339 563.6 385.5 562.9 432.5 561.7 477 560.2 520 558.2 560.5 555.7 599.5 552.8 636 549.8 666M406.8 666L404.2 596 402.3 514 401.1 430 400.6 339 401.1 248 402.3 164 404.2 82 406.8 12M512.6 666L510.3 637 508.2 604 506.3 565.5 504.8 525 502.8 435.5 502.1 339 502.8 242.5 504.8 153 506.3 112.5 508.2 74 510.3 41 512.6 12M418.8 12L419.9 69 420.7 151 421.4 339 420.7 527 419.9 609 418.8 666M548.8 12L551.7 42.5 554.4 77 556.7 116.5 558.7 158 560.2 201.5 561.3 246 561.9 292 562.1 339 561.9 386 561.3 432 560.2 476.5 558.7 520 556.7 561.5 554.4 601 551.7 635.5 548.8 666M407.2 666L404.7 594 402.9 511 401.8 425.5 401.4 339 401.8 252.5 402.9 167 404.7 84 407.2 12M513.4 666L511.2 637.5 509.1 604 507.3 565 505.9 524 503.9 434 503.2 339 503.9 244 505.9 154 507.3 113 509.1 74 511.2 40.5 513.4 12"/>
<path d="M414 12V666" stroke="#0000ff" stroke-width="6"/>
<g fill="none" stroke="#ffff00" stroke-width="1.4">
<path d="M415 314.6L417.8 246 420.2 171.5 424.3 12M531 333.7L542 259.2 554 181.7 567.5 97.9 581.8 12M529.5 344.2L517.8 429.5 507.2 513 498.3 592 490.9 666M413 358.2L408.5 441.7 403.5 517.7 397.5 593.7 390.8 666"/><path d="M415 316.8L417.8 253.5 420.7 172.5 422.8 101 425 12M531 334.2L543 260.6 556.5 181.9 571.5 98.1 587.5 12M529.5 343.7L516.3 431.5 505.3 512 495.8 590.5 487.9 666M413 356.4L408 439.7 402 519.6 395 595.8 387.3 666"/><path mask="url(#m120)" d="M415 319.1L418.3 251.5 421.2 175.5 423.7 94.5 425.8 12M531 334.7L544 263.3 559 185.2 576 100.6 594.5 12M529.5 343.2L514.8 431.5 502.8 512 492.8 589.5 484.5 666M413 354.6L407.5 436 404 478.9 400.5 517 392.5 591.3 388 627.7 382.8 666"/><path d="M415 321.3L418.7 251.5 421.7 180.5 424.3 103 426.7 12M531 335.2L546 262.4 563 184.7 582 101.8 603.4 12M529.5 342.7L521.3 385.5 513.3 429.5 506.3 470.5 500.2 509 494.3 550 489.3 588 484.7 626.5 480.6 666M413 352.9L410 394.5 406.5 436.4 402.5 478 398.5 514.6 394 551.3 388.5 591.5 383 627.8 376.7 666"/><path mask="url(#m140)" d="M415 323.6L418.8 262 422.3 187.5 425.2 104 427.7 12M531 335.7L548 264.1 567.5 187 590 102.5 615.1 12M529.5 342.3L519.8 386.5 511.2 428 503.7 467.5 496.7 508 490.7 546.5 485.2 586 480.4 626 476.2 666M413 351.1L409.5 392.9 405.5 433.5 401 472.6 395.5 513.9 390 550.1 383.5 588.1 376 627.7 368 666"/><path d="M415 325.9L419.3 265 423.2 189 426.3 108 428.9 12M531 336.2L550.5 266.4 574 188.1 601 103 631.2 12M529.5 341.8L518.3 385.5 508.7 426 500.2 465.5 492.7 504.5 486.2 543 480.6 582 475.7 622.5 471.3 666M413 349.3L408.5 394.2 403.5 435.1 398 472.9 391.5 511.1 384 549.3 375.5 587.5 366 626 355.2 666"/><path mask="url(#m160)" d="M415 328.1L417.8 297.5 420.2 264.5 424.2 195 427.7 108.5 430.3 12M531 336.6L542 303.5 554.5 267.6 568 230.3 583 190.2 599.5 147.3 617 103.1 654.3 12M529.5 341.3L516.2 384.5 505.2 424 495.7 462.5 487.8 500 480.9 538.5 475.2 577.5 470.2 620 465.9 666M413 347.5L407.5 392 401.5 430.6 394.5 467.5 386 505.1 376 543.1 364.5 581.6 351 622.2 335.1 666"/><path d="M415 330.4L417.8 306 420.8 273.5 423.2 240.5 425.3 205.5 427.3 165 429.1 116.5 431.9 12M531 337.1L545 303.9 560.5 269.1 578.5 230.5 598 190.1 620 146 643 101.1 666.5 56.5 690.6 12M529.5 340.8L514.2 380.5 507.3 400 501.3 418.5 495.7 437 490.7 455 486.2 473 482.1 491 478.3 510 475.1 528.5 471.9 549 469.1 569.5 464.3 614.5 460.4 666M413 345.8L410 366.1 406.5 386.6 402.5 406.9 398.5 424.8 394 442.8 389 460.7 383.5 478.7 377 498 370 517.2 362.5 536.4 354 556.7 345 577.1 335 598.6 324.5 620.3 301 666"/><path mask="url(#m180)" d="M415 332.6L418.8 307 422.2 277 424.8 247.5 427.2 211.5 429.3 171 431.1 123 433.9 12M531 337.6L549.5 305.5 571 270.7 596.5 231.3 625 189 656.5 143.9 689 98.7 721.5 54.9 754.4 12M529.5 340.3L519.8 358.5 510.9 376.5 503.3 393 496.2 410 490.2 426 484.7 442.5 479.8 459.5 475.6 476.5 471.8 494.5 468.4 513.5 465.4 534 462.8 555.5 460.4 579.5 458.3 605.5 454.8 666M413 344L409 363.5 404.5 381.9 399.5 399.2 394 415.6 387.5 432.6 380 450 371.5 467.7 362 485.8 351 505.1 338.5 525.6 324.5 547.2 309.5 569.3 293 592.4 275 616.7 256 641.4 236.4 666"/><path d="M415 334.9L419.7 313.5 423.7 288.5 426.9 261 429.7 225.5 431.8 185.5 433.6 136.5 435.1 78 436.3 12M531 338.1L552 314.8 577.5 288.3 609 257.3 645.5 222.6 687 184.4 730 145.9 773.5 107.9 817 70.9M529.5 339.9L516.7 355.5 506.3 369.5 497.3 383 489.7 396 482.9 409.5 477.2 423 472.3 437.5 468 453 464.3 470 461.2 488.5 458.5 509.2 456.2 533 454.2 559.5 452.5 590 451 624.5 449.7 666M413 342.2L407.5 359 401.5 373.6 394 388.5 385.5 402.6 375 417.7 363 432.8 349 448.8 332.5 466.2 311.5 486.8 288 508.6 261.5 532.1 232.5 556.8 201.5 582.2 169 608 135.5 633.8 101 659.6"/>
<path d="M413 338.7L403.5 336 390.5 333.6 374.5 331.6 355 329.9 333 328.5 310.5 327.7 287.5 327.4 265 327.6 244 328.2 223.5 329.3 203 330.8 182.5 332.8 162 335.2 141.9 338 121.5 341.3 101 345M529.5 338.9L507 335.9 489.9 333 477.5 330.2 468 327 464 325 461 323.2 458.3 321 456 318.5 454 315.7 452.3 312.5 449.7 305 447.7 294.5 446.2 280.5 445.1 261.5 444.3 237 443.2 157 442.6 12M415 339.4L420.5 342 424.8 345 428.6 349 431.3 353.5 433.4 359 435.3 366.5 436.6 375.5 437.7 386 439.2 417 440.2 466 440.8 543 441.2 666M531 339.1L571 343.4 611.5 346.9 649 349.1 685 350.3 719 350.4 752.5 349.4 785 347.3 817 344.1"/><path mask="url(#m220)" d="M413 336.9L409.5 329.7 406 323.5 402 317.3 397.5 311.3 392.5 305.4 387 299.6 374.5 288.3 359 276.5 340.5 264.4 319.5 252.4 297 241 273.5 230.4 249 220.6 224.5 212.1 200 204.9 175.5 198.9 150.5 193.9 126 190.3 101 187.8M529.5 338.4L514.8 326.5 502.7 315.5 492.7 305 484.3 294.5 477.4 284 471.5 272.5 466.6 260 462.5 246.2 459.1 230.5 456.3 212.5 454 192 451.9 167 450.3 138 448.9 103.5 446.8 12M531 339.6L546 350.6 562.5 362.1 580.5 373.8 599.5 385.7 619 397.3 638.5 408.3 658 418.8 677 428.5 695 437.1 713 445.2 731 452.8 748.5 459.6 766 465.8 783 471.3 800 476.3 817 480.8M415 341.7L417.9 349.5 420.7 359 423.2 369.5 425.3 380 428.8 405 431.7 437.5 433.9 476 435.6 527 436.9 586.5 438 666"/><path d="M413 335.1L410 323.5 406.5 311.8 402.5 300.3 398.5 290.1 394 279.9 389 269.8 383.5 259.7 377 248.8 370 238.1 362.5 227.5 354.5 217 345.5 205.8 326 183.7 304.5 161.7 292.5 150.3 280.5 139.4 256 118.7 243.5 109 230.5 99.3 218 90.5 205 81.9 192.5 74.1 179.5 66.4 166.5 59.3 153.5 52.6 140.5 46.4 127.5 40.7 114.5 35.5 101 30.5M529.5 338L518.3 321.5 508.3 305.5 499.8 290.5 492.2 275.5 485.8 261 480.1 246 475.2 230.5 471 214.5 467.2 197 464 178.5 461.2 158 458.7 135 456.5 109.2 454.6 80.5 451.6 12M531 340.1L545 359.1 560.5 379 577.5 399.8 596 421.4 615.5 443.3 635 464.3 654.5 484.5 674 503.9 692.5 521.4 711 538.2 729 553.7 747 568.4 764.5 581.9 782 594.5 799.5 606.4 817 617.4M415 343.9L419.3 367 423.2 395 426.2 425 428.7 458.5 430.8 499 432.6 547.5 434.1 603.5 435.3 666"/><path mask="url(#m240)" d="M413 333.4L409 311.3 404.5 290.6 399.5 271.2 394 252.8 387.5 233.8 380.5 215.7 372.5 197.1 363.5 178.1 353 157.7 341.5 137.1 328.5 115.4 315 94.3 300.5 73 285.5 52.1 270 31.7 254.2 12M529.5 337.5L520.8 319 512.2 299.5 504.8 281.5 498.2 264 492.2 246.5 487.1 230 482.4 212.5 478.2 195 474.3 176.5 471 157.5 467.9 137 465.2 116 462.8 93 460.6 68.5 456.9 12M531 340.6L551 379.7 574 421.5 600 466 628 511.3 656 554.3 683.5 594.3 710.5 631.3 737.4 666M415 346.2L418.7 374.5 421.7 403.5 424.3 435 426.6 472 428.7 513.5 430.3 556.5 433.1 666"/><path d="M413 331.6L410 309.3 407 289.9 403.5 270 399.5 249.9 395 229.8 390.5 211.8 385.5 193.5 379.5 173.6 373.5 155.2 366.5 135.3 359 115.5 351 95.5 342.5 75.5 333 54.2 323 32.9 312.8 12M529.5 337L514.8 295 502.7 256.5 492.7 219.5 484.3 182.5 477.3 144.5 471.4 104 466.6 61 462.5 12M531 341.1L545 377.5 560.5 415.6 578 456.7 597 499.4 617 542.6 637.5 585.4 658 626.6 678.4 666M415 348.4L417.8 375 420.3 404.5 422.7 439 424.8 475.5 428.3 558.5 431.3 666"/><path mask="url(#m260)" d="M413 329.8L408 285.9 402.5 246.9 396 208.9 388 169.7 379 132 368.5 93.3 356.5 53.9 342.5 12M529.5 336.5L517.2 293.5 506.8 253.5 497.8 215 489.8 176 483.1 138 477.3 98 472.3 56.5 468 12M531 341.5L542 377.3 554 414.4 567 453.1 581.5 494.7 597 537.8 613 580.9 629.5 624.1 646 666M415 350.7L419.8 412 423.8 484 427.2 571 429.7 666"/><path d="M413 328L409 285.2 404.5 245 399 203.7 393 165.3 386 126.4 378.5 89.6 370 52.1 360 12M529.5 336L519.2 293.5 509.7 251 501.3 210 494.2 171.5 487.8 132 482.3 93 477.4 52.5 473.2 12M531 342L550 414.4 572.5 494.2 598 579.4 625.2 666M415 353L419.3 417 422.8 488 425.8 569 428.4 666"/><path mask="url(#m280)" d="M413 326.3L409.5 282.2 405.5 239.5 401 198.4 396.5 162.4 391 123.7 385 86 378.5 49.2 371.3 12M529.5 335.6L520.7 293.5 512.3 250.5 504.7 209 498.2 170 492.2 130.5 486.8 91 482.2 52.5 477.9 12M531 342.5L547 413.8 566 493.1 587.5 578.2 610.7 666M415 355.2L418.8 420 422.2 496.5 424.8 572.5 427.3 666"/><path d="M413 324.5L410 281 406.5 237.1 403 198.7 399 159.9 394.5 121.1 390 86.2 385 50.8 379 12M529.5 335.1L521.8 293 514.3 250 507.3 207.5 501.3 168 495.7 128.5 490.8 90 486.3 51.5 482.1 12M531 343L545.5 416.8 561.5 493.6 580 578.2 600 666M415 357.5L418.3 420.5 421.3 493 423.8 570 426.3 666"/><path d="M413 322.7L407.5 238 401 159.2 393.5 85.4 384.5 12M529.5 334.6L515.8 249 503.8 166 494.2 90 485.8 12M531 343.5L544 418 558.5 496.6 574.5 579.6 591.8 666M415 359.7L417.8 419 420.8 496.5 423.3 577 425.5 666"/>
</g>
<path d="M413.5 12V666" stroke="#ffff00" stroke-width="1.1"/>
<path d="M529.8 11.5V666" stroke="#8c0000" stroke-width="2.8"/>
<path fill="none" stroke="#0000ff" stroke-width="5.5" stroke-linecap="round" stroke-linejoin="round" d="M415 337.1L418.9 329.5 421.7 322.5 424.1 315 426.3 306.5 428.4 296 429.8 286.8 432.7 261 434.7 230 436.4 189 437.7 133 438.7 63.5M439 28.5L439.1 12M531 338.6L561 322.5 581 312.7 605 301.5 659.5 277.4 742.1 242.1M757.4 235.6L817 209.8M529.5 339.4L512.5 348.8 498.2 358 487.3 366.5 482.4 371 478 375.7M462.7 401.8L460.2 409 458.4 415.5 455 432.5 452.3 453 450 480 448.5 509.5 447 554.5 445.9 604 445.1 666M413 340.4L406.5 349.2 397.7 358.3M382.3 370.6L367 380.4 348 391.1 325.5 402.7 292.5 418.6 249.5 438.4 201 460 152 481.3 101 502.8"/>
</g>
<g font-family="'Liberation Sans', Arial, sans-serif" font-weight="bold" font-size="23.5" fill="#fff" text-anchor="middle">
<text x="271.7" y="36.5">40</text><text x="378.0" y="33.3">80</text><text x="353.6" y="64.5">60</text><text x="209.0" y="213.5">20</text><text x="440.0" y="52.0">0</text><text x="414.0" y="117.2">-80</text><text x="418.0" y="163.3">-60</text><text x="414.0" y="223.0">-40</text><text x="411.5" y="313.0">-20</text><text x="483.0" y="142.0">60</text><text x="477.0" y="198.0">40</text><text x="510.0" y="246.0">80</text><text x="480.0" y="296.0">20</text><text x="605.4" y="39.0">-60</text><text x="626.0" y="84.0">-40</text><text x="573.5" y="117.0">-80</text><text x="729.0" y="38.0">-20</text><text x="749.8" y="243.0">0</text><text x="390.0" y="365.0">0</text><text x="470.2" y="397.0">0</text><text x="416.0" y="468.0">80</text><text x="479.0" y="475.0">-20</text><text x="381.0" y="528.0">-40</text><text x="424.6" y="532.2">60</text><text x="484.0" y="529.0">-40</text><text x="486.5" y="562.0">-60</text><text x="428.0" y="580.6">40</text><text x="495.5" y="596.0">-80</text><text x="381.0" y="603.0">-60</text><text x="392.0" y="633.0">-80</text><text x="437.8" y="630.8">20</text><text x="700.0" y="444.0">20</text><text x="581.0" y="500.0">60</text><text x="584.0" y="572.0">80</text><text x="663.0" y="567.0">40</text><text x="258.0" y="650.0">-20</text>
</g>
<g font-family="'Liberation Sans', Arial, sans-serif" font-weight="bold" fill="#fff"><text transform="translate(110,490.2) rotate(-25.5)" font-size="27.5" textLength="291.5" lengthAdjust="spacingAndGlyphs">Transition AC shift (kHz)</text></g>
</g>
<path d="M102 12V666M816 12V666M101 13H817M101 665H817" stroke="#000" stroke-width="2" fill="none"/>
<path d="M91 13H101M91 94H101M91 176H101M91 258H101M91 339H101M91 420H101M91 502H101M91 584H101M91 665H101M96 54H101M96 135H101M96 217H101M96 298H101M96 380H101M96 461H101M96 543H101M96 624H101M102 666V676M244 666V676M387 666V676M530 666V676M673 666V676M816 666V676M173 666V670.3M316 666V670.3M459 666V670.3M602 666V670.3M745 666V670.3" stroke="#000" stroke-width="2" fill="none"/>
<g font-family="'Liberation Sans', Arial, sans-serif" font-size="30.5" fill="#000">
<text x="83.2" y="21.6" text-anchor="end">0.9</text><text x="83.2" y="103.1" text-anchor="end">0.8</text><text x="83.2" y="184.6" text-anchor="end">0.7</text><text x="83.2" y="266.1" text-anchor="end">0.6</text><text x="83.2" y="347.6" text-anchor="end">0.5</text><text x="83.2" y="429.1" text-anchor="end">0.4</text><text x="83.2" y="510.6" text-anchor="end">0.3</text><text x="83.2" y="592.1" text-anchor="end">0.2</text><text x="83.2" y="673.6" text-anchor="end">0.1</text>
<text x="102" y="707.6" text-anchor="middle">-3</text><text x="244" y="707.6" text-anchor="middle">-2</text><text x="387" y="707.6" text-anchor="middle">-1</text><text x="530" y="707.6" text-anchor="middle">0</text><text x="673" y="707.6" text-anchor="middle">1</text><text x="816" y="707.6" text-anchor="middle">2</text>
</g>
<rect x="869" y="637" width="54" height="30.9" fill="rgb(64,255,64)"/><rect x="869" y="607" width="54" height="30" fill="rgb(0,255,0)"/><rect x="869" y="578" width="54" height="29" fill="rgb(0,242,0)"/><rect x="869" y="548" width="54" height="30" fill="rgb(0,228,0)"/><rect x="869" y="518" width="54" height="30" fill="rgb(0,215,0)"/><rect x="869" y="488" width="54" height="30" fill="rgb(0,201,0)"/><rect x="869" y="458" width="54" height="30" fill="rgb(0,188,0)"/><rect x="869" y="428" width="54" height="30" fill="rgb(0,174,0)"/><rect x="869" y="398" width="54" height="30" fill="rgb(0,161,0)"/><rect x="869" y="369" width="54" height="29" fill="rgb(0,148,0)"/><rect x="869" y="339" width="54" height="30" fill="rgb(0,134,0)"/><rect x="869" y="309" width="54" height="30" fill="rgb(0,121,0)"/><rect x="869" y="279" width="54" height="30" fill="rgb(0,107,0)"/><rect x="869" y="249" width="54" height="30" fill="rgb(0,94,0)"/><rect x="869" y="219" width="54" height="30" fill="rgb(0,81,0)"/><rect x="869" y="190" width="54" height="29" fill="rgb(0,67,0)"/><rect x="869" y="160" width="54" height="30" fill="rgb(0,54,0)"/><rect x="869" y="130" width="54" height="30" fill="rgb(0,40,0)"/><rect x="869" y="100" width="54" height="30" fill="rgb(0,27,0)"/><rect x="869" y="70" width="54" height="30" fill="rgb(0,13,0)"/><rect x="869" y="10.3" width="54" height="59.7" fill="rgb(0,0,0)"/><rect x="869.3" y="10.9" width="53.1" height="656.4" fill="none" stroke="#000" stroke-width="1.2"/>
<path d="M922 637.5H932.7M922 578.5H932.7M922 518.5H932.7M922 458.5H932.7M922 398.5H932.7M922 339.5H932.7M922 279.5H932.7M922 219.5H932.7M922 160.5H932.7M922 100.5H932.7M922 40.5H932.7" stroke="#000" stroke-width="1.2" fill="none"/>
<g font-family="'Liberation Sans', Arial, sans-serif" font-size="30.5" fill="#000"><text x="947" y="649.0">0</text><text x="947" y="589.3">20</text><text x="947" y="529.6">40</text><text x="947" y="469.9">60</text><text x="947" y="410.2">80</text><text x="947" y="350.5">100</text><text x="947" y="290.8">120</text><text x="947" y="231.1">140</text><text x="947" y="171.4">160</text><text x="947" y="111.7">180</text><text x="947" y="52.0">200</text></g>
<g font-family="'Liberation Sans', Arial, sans-serif" fill="#000">
<text transform="translate(28,569) rotate(-90)" font-size="35" textLength="462" lengthAdjust="spacingAndGlyphs">Fraction of power in laser <tspan font-style="italic">RA</tspan></text>
<text transform="translate(857.7,553) rotate(-90)" font-size="36.4" textLength="415.5" lengthAdjust="spacingAndGlyphs">Rabi freqency, Ω/2π (kHz)</text>
<text x="361.5" y="746.6" font-size="35" textLength="192" lengthAdjust="spacingAndGlyphs">Δ<tspan font-size="23.5" dy="10.3">R</tspan><tspan dy="-10.3">/2π (GHz)</tspan></text>
</g>
</svg>
</body></html>
